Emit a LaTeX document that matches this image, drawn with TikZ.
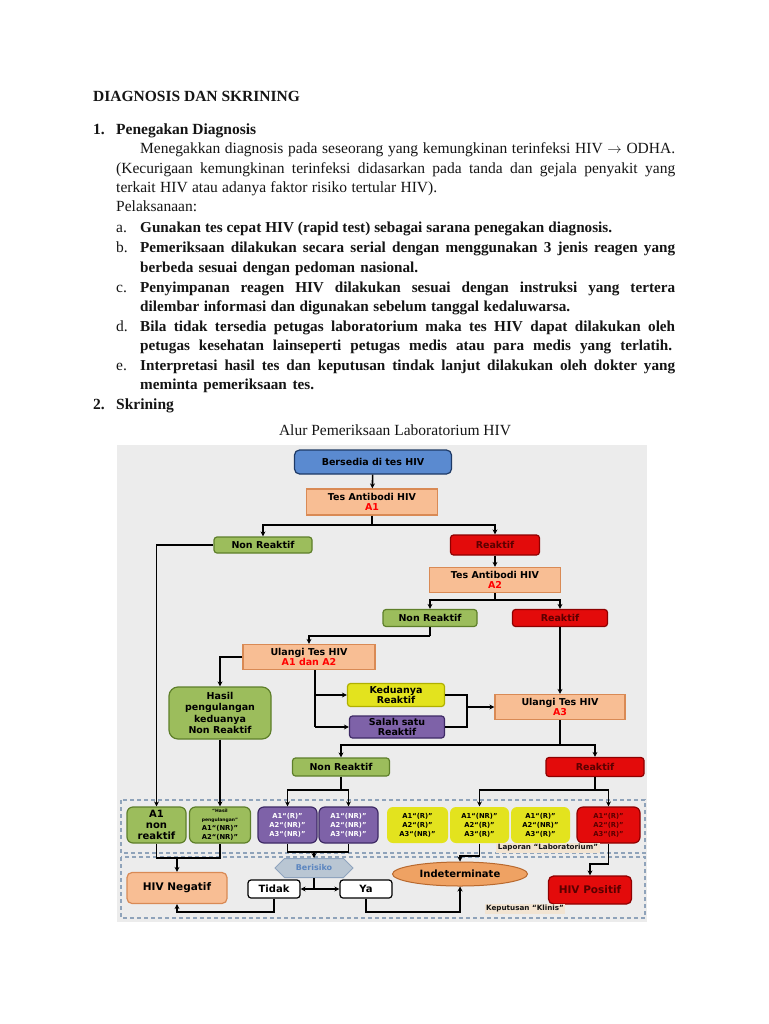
\documentclass[tikz,border=0pt]{standalone}
\usepackage{fontspec}
\setmainfont{Liberation Serif}
\newfontfamily\flow{DejaVu Sans}
\usetikzlibrary{shapes.geometric,shapes.symbols,arrows.meta,calc}
\definecolor{bluefill}{HTML}{5A8AD0}
\definecolor{blueedge}{HTML}{1E3A66}
\definecolor{salfill}{HTML}{F8BE94}
\definecolor{saledge}{HTML}{D98A55}
\definecolor{grnfill}{HTML}{9CBD5C}
\definecolor{grnedge}{HTML}{5E7F2A}
\definecolor{redfill}{HTML}{E30B0B}
\definecolor{rededge}{HTML}{8E0000}
\definecolor{redtext}{HTML}{5A0000}
\definecolor{yelfill}{HTML}{E3E31E}
\definecolor{yeledge}{HTML}{B0B000}
\definecolor{purfill}{HTML}{7E62A8}
\definecolor{puredge}{HTML}{3E2A66}
\definecolor{bggray}{HTML}{ECECEC}
\definecolor{dashc}{HTML}{8FA3BA}
\definecolor{labfill}{HTML}{F2E4D2}
\definecolor{hexfill}{HTML}{B9C6D3}
\definecolor{hexedge}{HTML}{8FA4BE}
\definecolor{hextext}{HTML}{5C86C0}
\definecolor{indfill}{HTML}{EFA263}
\definecolor{indedge}{HTML}{B8692E}
\definecolor{ink}{HTML}{151515}
\newcommand{\tinyln}[1]{{\fontsize{4.5}{5.5}\selectfont #1}}
\begin{document}
\begin{tikzpicture}[x=1pt,y=-1pt,
  bodytxt/.style={anchor=base west,inner sep=0pt,text=ink,font=\fontsize{15.5}{19}\selectfont},
  itemtxt/.style={anchor=base west,inner sep=0pt,text=ink,font=\fontsize{15.2}{19}\selectfont\bfseries},
  fbox/.style={draw,line width=1.2pt,rounded corners=3pt,align=center,inner sep=0pt,
     font=\flow\fontsize{9.5}{10.5}\selectfont\bfseries},
  bluebox/.style={fbox,fill=bluefill,draw=blueedge,rounded corners=5pt},
  salbox/.style={fbox,fill=salfill,draw=saledge,rounded corners=0pt},
  grnbox/.style={fbox,fill=grnfill,draw=grnedge},
  redbox/.style={fbox,fill=redfill,draw=rededge,text=redtext},
  yelbox/.style={fbox,fill=yelfill,draw=yeledge},
  purbox/.style={fbox,fill=purfill,draw=puredge},
  smalltxt/.style={font=\flow\fontsize{6.8}{9}\selectfont\bfseries},
  labtxt/.style={fill=labfill,inner sep=1.5pt,font=\flow\fontsize{7.2}{8}\selectfont\bfseries,text=ink},
  ln/.style={line width=1.6pt,draw=black},
  arr/.style={ln,-{Stealth[length=5pt,width=5pt]}}
]
\useasboundingbox[fill=white] (0,0) rectangle (768,1024);

% ---------- text ----------
\node[bodytxt] (title) at (93,102) {\bfseries DIAGNOSIS DAN SKRINING};
\node[bodytxt] (h1n) at (93,135) {\bfseries 1.};
\node[bodytxt] (h1) at (116,135) {\bfseries Penegakan Diagnosis};
\node[bodytxt] (p1) at (140,154) {\makebox[535pt][s]{Menegakkan diagnosis pada seseorang yang kemungkinan terinfeksi HIV $\rightarrow$ ODHA.}};
\node[bodytxt] (p2) at (116,174) {\makebox[559pt][s]{(Kecurigaan kemungkinan terinfeksi didasarkan pada tanda dan gejala penyakit yang}};
\node[bodytxt] (p3) at (116,193) {\makebox[321pt][s]{terkait HIV atau adanya faktor risiko tertular HIV).}};
\node[bodytxt] (p4) at (116,212) {Pelaksanaan:};
\node[bodytxt] (la) at (116,233) {a.};
\node[itemtxt] (ia) at (140,233) {\makebox[472pt][s]{Gunakan tes cepat HIV (rapid test) sebagai sarana penegakan diagnosis.}};
\node[bodytxt] (lb) at (116,252) {b.};
\node[itemtxt] (ib1) at (140,252) {\makebox[535pt][s]{Pemeriksaan dilakukan secara serial dengan menggunakan 3 jenis reagen yang}};
\node[itemtxt] (ib2) at (140,272) {\makebox[278pt][s]{berbeda sesuai dengan pedoman nasional.}};
\node[bodytxt] (lc) at (116,292) {c.};
\node[itemtxt] (ic1) at (140,292) {\makebox[535pt][s]{Penyimpanan reagen HIV dilakukan sesuai dengan instruksi yang tertera}};
\node[itemtxt] (ic2) at (140,311) {\makebox[430pt][s]{dilembar informasi dan digunakan sebelum tanggal kedaluwarsa.}};
\node[bodytxt] (ld) at (116,331) {d.};
\node[itemtxt] (id1) at (140,331) {\makebox[535pt][s]{Bila tidak tersedia petugas laboratorium maka tes HIV dapat dilakukan oleh}};
\node[itemtxt] (id2) at (140,350) {\makebox[532pt][s]{petugas kesehatan lainseperti petugas medis atau para medis yang terlatih.}};
\node[bodytxt] (le) at (116,370) {e.};
\node[itemtxt] (ie1) at (140,370) {\makebox[535pt][s]{Interpretasi hasil tes dan keputusan tindak lanjut dilakukan oleh dokter yang}};
\node[itemtxt] (ie2) at (140,389) {\makebox[174pt][s]{meminta pemeriksaan tes.}};
\node[bodytxt] (h2n) at (93,409) {\bfseries 2.};
\node[bodytxt] (h2) at (116,409) {\bfseries Skrining};
\node[bodytxt,anchor=base] (cap) at (395,435) {Alur Pemeriksaan Laboratorium HIV};

% ---------- flowchart background ----------
\fill[bggray] (117,445) rectangle (647,922);
\draw[dashc,line width=1.2pt,dash pattern=on 4pt off 3pt] (121,800) rectangle (645,853);
\draw[dashc,line width=1.2pt,dash pattern=on 4pt off 3pt] (121,857) rectangle (645,918);

% ---------- nodes ----------
\node[bluebox,minimum width=157pt,minimum height=24pt] (bersedia) at (373,462) {Bersedia di tes HIV};
\node[salbox,minimum width=131pt,minimum height=26pt] (ta1) at (372,502) {Tes Antibodi HIV\\\textcolor{red}{A1}};
\node[grnbox,minimum width=98pt,minimum height=16pt] (nr1) at (263,545) {Non Reaktif};
\node[redbox,minimum width=89pt,minimum height=20pt] (r1) at (495,545) {Reaktif};
\node[salbox,minimum width=131pt,minimum height=25pt] (ta2) at (495,580) {Tes Antibodi HIV\\\textcolor{red}{A2}};
\node[grnbox,minimum width=94pt,minimum height=17pt] (nr2) at (430,618) {Non Reaktif};
\node[redbox,minimum width=95pt,minimum height=17pt] (r2) at (560,618) {Reaktif};
\node[salbox,minimum width=132pt,minimum height=25pt] (ul12) at (309,657) {Ulangi Tes HIV\\\textcolor{red}{A1 dan A2}};
\node[grnbox,rounded corners=9pt,minimum width=102pt,minimum height=52pt,font=\flow\fontsize{9.5}{11.2}\selectfont\bfseries] (hasil) at (220,713) {Hasil\\pengulangan\\keduanya\\Non Reaktif};
\node[yelbox,minimum width=97pt,minimum height=23pt] (kedua) at (396,695) {Keduanya\\Reaktif};
\node[purbox,minimum width=95pt,minimum height=22pt] (salah) at (397,727) {Salah satu\\Reaktif};
\node[salbox,minimum width=130pt,minimum height=25pt] (ul3) at (560,707) {Ulangi Tes HIV\\\textcolor{red}{A3}};
\node[grnbox,minimum width=97pt,minimum height=18pt] (nr3) at (341,767) {Non Reaktif};
\node[redbox,minimum width=98pt,minimum height=19pt] (r3) at (595,767) {Reaktif};

% bottom row
\node[grnbox,rounded corners=6pt,minimum width=59pt,minimum height=36pt,font=\flow\fontsize{10}{10.8}\selectfont\bfseries] (b1) at (156.5,825) {A1\\non\\reaktif};
\node[grnbox,smalltxt,rounded corners=6pt,minimum width=61pt,minimum height=36pt] (b2) at (220,825) {\tinyln{“Hasil}\\\tinyln{pengulangan”}\\A1“(NR)”\\A2“(NR)”};
\node[purbox,smalltxt,text=white,rounded corners=6pt,minimum width=59pt,minimum height=36pt] (b3) at (287.5,825) {A1“(R)”\\A2“(NR)”\\A3“(NR)”};
\node[purbox,smalltxt,text=white,rounded corners=6pt,minimum width=59pt,minimum height=36pt] (b4) at (348.5,825) {A1“(NR)”\\A2“(NR)”\\A3“(NR)”};
\node[yelbox,smalltxt,draw=none,rounded corners=6pt,minimum width=61pt,minimum height=36pt] (b5) at (417.5,825) {A1“(R)”\\A2“(R)”\\A3“(NR)”};
\node[yelbox,smalltxt,draw=none,rounded corners=6pt,minimum width=59pt,minimum height=36pt] (b6) at (479.5,825) {A1“(NR)”\\A2“(R)”\\A3“(R)”};
\node[yelbox,smalltxt,draw=none,rounded corners=6pt,minimum width=59pt,minimum height=36pt] (b7) at (540.5,825) {A1“(R)”\\A2“(NR)”\\A3“(R)”};
\node[redbox,smalltxt,rounded corners=6pt,minimum width=63pt,minimum height=36pt] (b8) at (608.5,825) {A1“(R)”\\A2“(R)”\\A3“(R)”};
\node[labtxt] (lapor) at (548,848) {Laporan “Laboratorium”};

% decision level
\node[shape=signal,signal to=west and east,fill=hexfill,draw=hexedge,line width=1pt,
      minimum width=78pt,minimum height=19pt,inner sep=0pt,
      font=\flow\fontsize{8}{9}\selectfont\bfseries,text=hextext] (beris) at (314,868) {Berisiko};
\node[salbox,rounded corners=5pt,font=\flow\fontsize{10.5}{12}\selectfont\bfseries,minimum width=100pt,minimum height=31pt] (neg) at (177,888) {HIV Negatif};
\node[fbox,fill=white,draw=black,minimum width=52pt,minimum height=18pt,font=\flow\fontsize{10}{11}\selectfont\bfseries] (tidak) at (274,889) {Tidak};
\node[fbox,fill=white,draw=black,minimum width=52pt,minimum height=18pt,font=\flow\fontsize{10}{11}\selectfont\bfseries] (ya) at (366,889) {Ya};
\node[ellipse,fill=indfill,draw=indedge,line width=1pt,minimum width=135pt,minimum height=24pt,inner sep=0pt,
      font=\flow\fontsize{10}{11}\selectfont\bfseries] (indet) at (460,874) {Indeterminate};
\node[redbox,rounded corners=5pt,font=\flow\fontsize{10.5}{12}\selectfont\bfseries,minimum width=83pt,minimum height=28pt] (pos) at (590,890) {HIV Positif};
\node[labtxt] (kepu) at (525,909) {Keputusan “Klinis”};

% ---------- junction coordinates ----------
\coordinate (j1) at (372,525);
\coordinate (j2) at (495,600);
\coordinate (j3) at (430,636);
\coordinate (u12b) at (315,670);
\coordinate (j5) at (315,695);
\coordinate (j6) at (315,727);
\coordinate (j7) at (467,707);
\coordinate (j8) at (560,745);
\coordinate (j9) at (341,790);
\coordinate (j10) at (595,790);
\coordinate (j11) at (177,858);
\coordinate (j12) at (314,852);
\coordinate (j13) at (314,889);
\coordinate (j14) at (274,912);
\coordinate (j15) at (366,912);
\coordinate (j16) at (479.5,856);
\coordinate (j17) at (608.5,864);

% ---------- connectors ----------
\draw[arr] (bersedia) -- (ta1);
\draw[ln] (ta1.south) -- (j1);
\draw[arr] (j1) -| (nr1.north);
\draw[arr] (j1) -| (r1.north);
\draw[arr] (nr1.west) -| (b1.north);
\draw[arr] (r1) -- (ta2);
\draw[ln] (ta2.south) -- (j2);
\draw[arr] (j2) -| (nr2.north);
\draw[arr] (j2) -| (r2.north);
\draw[ln] (nr2.south) -- (j3);
\draw[arr] (j3) -| (ul12.north);
\draw[arr] (r2.south) -- (ul3.north);
\draw[arr] (ul12.west) -| (hasil.north);
\draw[ln] (u12b) -- (j6);
\draw[arr] (j5) -- (kedua.west);
\draw[arr] (j6) -- (salah.west);
\draw[ln] (kedua.east) -| (j7);
\draw[ln] (salah.east) -| (j7);
\draw[arr] (j7) -- (ul3.west);
\draw[ln] (ul3.south) -- (j8);
\draw[arr] (j8) -| (nr3.north);
\draw[arr] (j8) -| (r3.north);
\draw[arr] (hasil.south) -- (b2.north);
\draw[ln] (nr3.south) -- (j9);
\draw[arr] (j9) -| (b3.north);
\draw[arr] (j9) -| (b4.north);
\draw[ln] (r3.south) -- (j10);
\draw[arr] (j10) -| (b6.north);
\draw[arr] (j10) -| (b8.north);
\draw[ln] (b1.south) |- (j11) -| (b2.south);
\draw[arr] (j11) -- (neg.north);
\draw[ln] (b3.south) |- (j12) -| (b4.south);
\draw[arr] (j12) -- (beris.north);
\draw[ln] (beris.south) -- (j13);
\draw[arr] (j13) -- (tidak.east);
\draw[arr] (j13) -- (ya.west);
\draw[arr] (tidak.south) -- (j14) -| (neg.south);
\draw[arr] (ya.south) -- (j15) -| (indet.south);
\draw[arr] (b6.south) -- (j16) -| (indet.north);
\draw[arr] (b8.south) -- (j17) -| (pos.north);
\end{tikzpicture}
\end{document}
